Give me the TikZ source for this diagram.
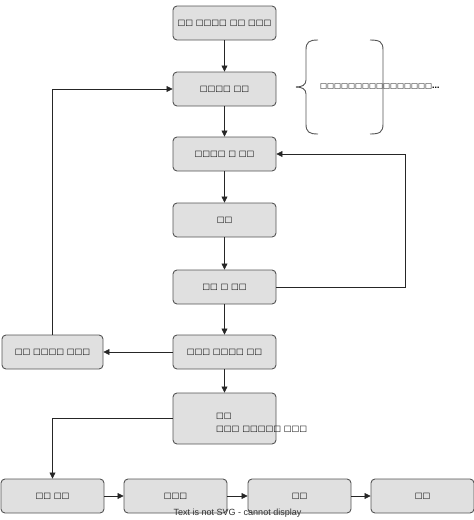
\documentclass[tikz,border=0pt]{standalone}
\usepackage{fontspec}
\setmainfont{DejaVu Sans}
\newfontfamily\helv{Liberation Sans}
\usetikzlibrary{arrows.meta,positioning}
\definecolor{boxfill}{HTML}{E0E0E0}
\definecolor{boxline}{HTML}{555555}
\tikzset{
  flowbox/.style={draw=boxline, fill=boxfill, rounded corners=4pt, line width=0.9pt,
    minimum width=103pt, minimum height=34pt, inner sep=0pt, font=\bfseries\fontsize{8.2}{10}\selectfont},
  arr/.style={draw=black!85, line width=0.7pt, -{Triangle[length=6pt,width=6pt]}},
  tofu/.style={font=\bfseries\fontsize{8.2}{13}\selectfont, inner sep=0pt}
}
\begin{document}
\begin{tikzpicture}[x=1pt,y=-1pt]
\useasboundingbox (0,0) rectangle (474,520);
\node[flowbox] (b1) at (224.5,23) {□□ □□□□ □□ □□□};
\node[flowbox] (b2) at (224.5,89) {□□□□ □□};
\node[flowbox] (b3) at (224.5,154) {□□□□ □ □□};
\node[flowbox] (b4) at (224.5,220) {□□};
\node[flowbox] (b5) at (224.5,287) {□□ □ □□};
\node[flowbox] (b6) at (224.5,352) {□□□ □□□□ □□};
\node[flowbox, minimum height=51pt] (b7) at (224.5,418.5) {};
\node[tofu, anchor=west, align=left] (t7) at (216,422.5) {□□\\□□□ □□□□□ □□□};
\node[flowbox, minimum width=101pt] (l1) at (52.5,352) {□□ □□□□ □□□};
\node[flowbox] (r1) at (52.5,496) {□□ □□};
\node[flowbox] (r2) at (175.5,496) {□□□};
\node[flowbox] (r3) at (299.5,496) {□□};
\node[flowbox] (r4) at (422.5,496) {□□};
% annotation brace
\draw[boxline, line width=0.9pt] (318,40) .. controls (309,40) and (306,42) .. (306,50) -- (306,80) .. controls (306,85) and (302,87) .. (296,87);
\draw[boxline, line width=0.9pt] (296,87) .. controls (302,87) and (306,89) .. (306,94) -- (306,124) .. controls (306,132) and (309,134) .. (318,134);
\draw[boxline, line width=0.9pt] (370,40) .. controls (380,40) and (383,42) .. (383,50) -- (383,124) .. controls (383,132) and (380,134) .. (370,134);
\node[tofu, anchor=west, font=\bfseries\fontsize{7.4}{10}\selectfont] (note) at (320,87) {□□□□□□□□□□□□□□□□…};
% connectors
\draw[arr] (b1) -- (b2);
\draw[arr] (b2) -- (b3);
\draw[arr] (b3) -- (b4);
\draw[arr] (b4) -- (b5);
\draw[arr] (b5) -- (b6);
\draw[arr] (b6) -- (b7);
\draw[arr] (b5.east) -- ++(129,0) |- (b3.east);
\draw[arr] (b6) -- (l1);
\draw[arr] (l1.north) |- (b2.west);
\draw[arr] (b7.west) -| (r1.north);
\draw[arr] (r1) -- (r2);
\draw[arr] (r2) -- (r3);
\draw[arr] (r3) -- (r4);
\node[font=\helv\fontsize{9}{11}\selectfont, text=black!80, inner sep=0pt] (warn) at (237.5,513) {Text is not SVG - cannot display};
\end{tikzpicture}
\end{document}
